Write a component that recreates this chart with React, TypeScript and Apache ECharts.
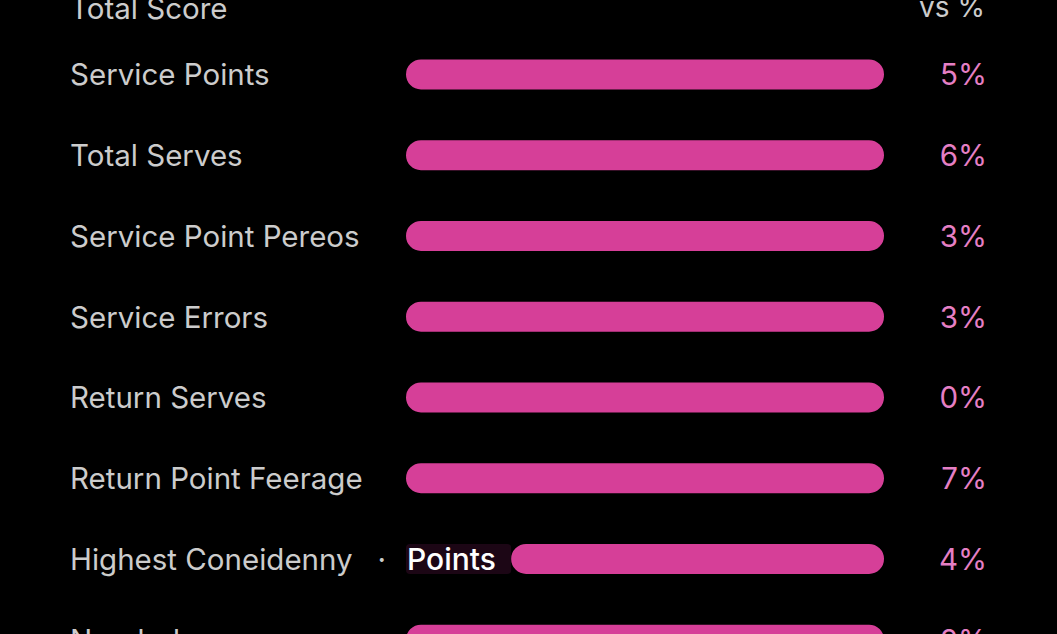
import React, { useEffect, useRef } from "react";
import * as echarts from "echarts";

const categories = [
  "Service Points",
  "Total Serves",
  "Service Point Pereos",
  "Service Errors",
  "Return Serves",
  "Return Point Feerage",
  "Highest Coneidenny   ·",
  "Needed",
];
const vsPercent = [5, 6, 3, 3, 0, 7, 4, 2];
const barOffset = [0, 0, 0, 0, 0, 0, 22, 0];
const barValues = [100, 100, 100, 100, 100, 100, 78, 100];
const offsetLabels = ["", "", "", "", "", "", "Points", ""];
const headerLeft = "Total Score";
const headerRight = "vs %";

const FONT = "Inter, 'Noto Sans', sans-serif";

export default function App() {
  const ref = useRef<HTMLDivElement>(null);
  useEffect(() => {
    if (!ref.current) return;
    const chart = echarts.init(ref.current, undefined, { renderer: "svg" });
    chart.setOption({
      animation: false,
      backgroundColor: "#000000",
      grid: { left: 406, right: 173, top: 34, bottom: 20, containLabel: false },
      xAxis: { type: "value", min: 0, max: 100, show: false },
      yAxis: [
        {
          type: "category",
          inverse: true,
          data: categories,
          position: "left",
          axisLine: { show: false },
          axisTick: { show: false },
          splitLine: { show: false },
          axisLabel: {
            align: "left",
            margin: 336,
            color: "#cccccc",
            fontSize: 29.5,
            fontFamily: FONT,
          },
        },
        {
          type: "category",
          inverse: true,
          data: vsPercent.map((v) => v + "%"),
          position: "right",
          axisLine: { show: false },
          axisTick: { show: false },
          splitLine: { show: false },
          axisLabel: {
            align: "right",
            margin: 103,
            color: "#e57fc4",
            fontSize: 29.5,
            fontFamily: FONT,
          },
        },
      ],
      graphic: [
        {
          type: "text",
          left: 70,
          top: -7,
          style: { text: headerLeft, fill: "#cccccc", fontSize: 29.5, fontFamily: FONT },
        },
        {
          type: "text",
          right: 72,
          top: -7,
          style: { text: headerRight, fill: "#cccccc", fontSize: 28, fontFamily: FONT },
        },
      ],
      series: [
        {
          type: "bar",
          stack: "s",
          barWidth: 30,
          yAxisIndex: 0,
          data: barOffset.map((v, i) => ({
            value: v,
            itemStyle: { color: v > 0 ? "#1c0615" : "transparent" },
            label: {
              show: offsetLabels[i] !== "",
              formatter: offsetLabels[i],
              position: "insideLeft",
              offset: [-4, 0],
              color: "#ffffff",
              fontSize: 30,
              fontWeight: 500,
              fontFamily: FONT,
            },
          })),
          itemStyle: { borderRadius: 4 },
        },
        {
          type: "bar",
          stack: "s",
          barWidth: 30,
          yAxisIndex: 0,
          data: barValues,
          itemStyle: { color: "#d63f98", borderRadius: 15 },
        },
      ],
    });
    return () => chart.dispose();
  }, []);
  return (
    <div
      style={{
        position: "fixed",
        left: 0,
        top: 0,
        width: 1057,
        height: 634,
        overflow: "hidden",
        background: "#000",
      }}
    >
      <div ref={ref} style={{ width: 1057, height: 700 }} />
    </div>
  );
}
